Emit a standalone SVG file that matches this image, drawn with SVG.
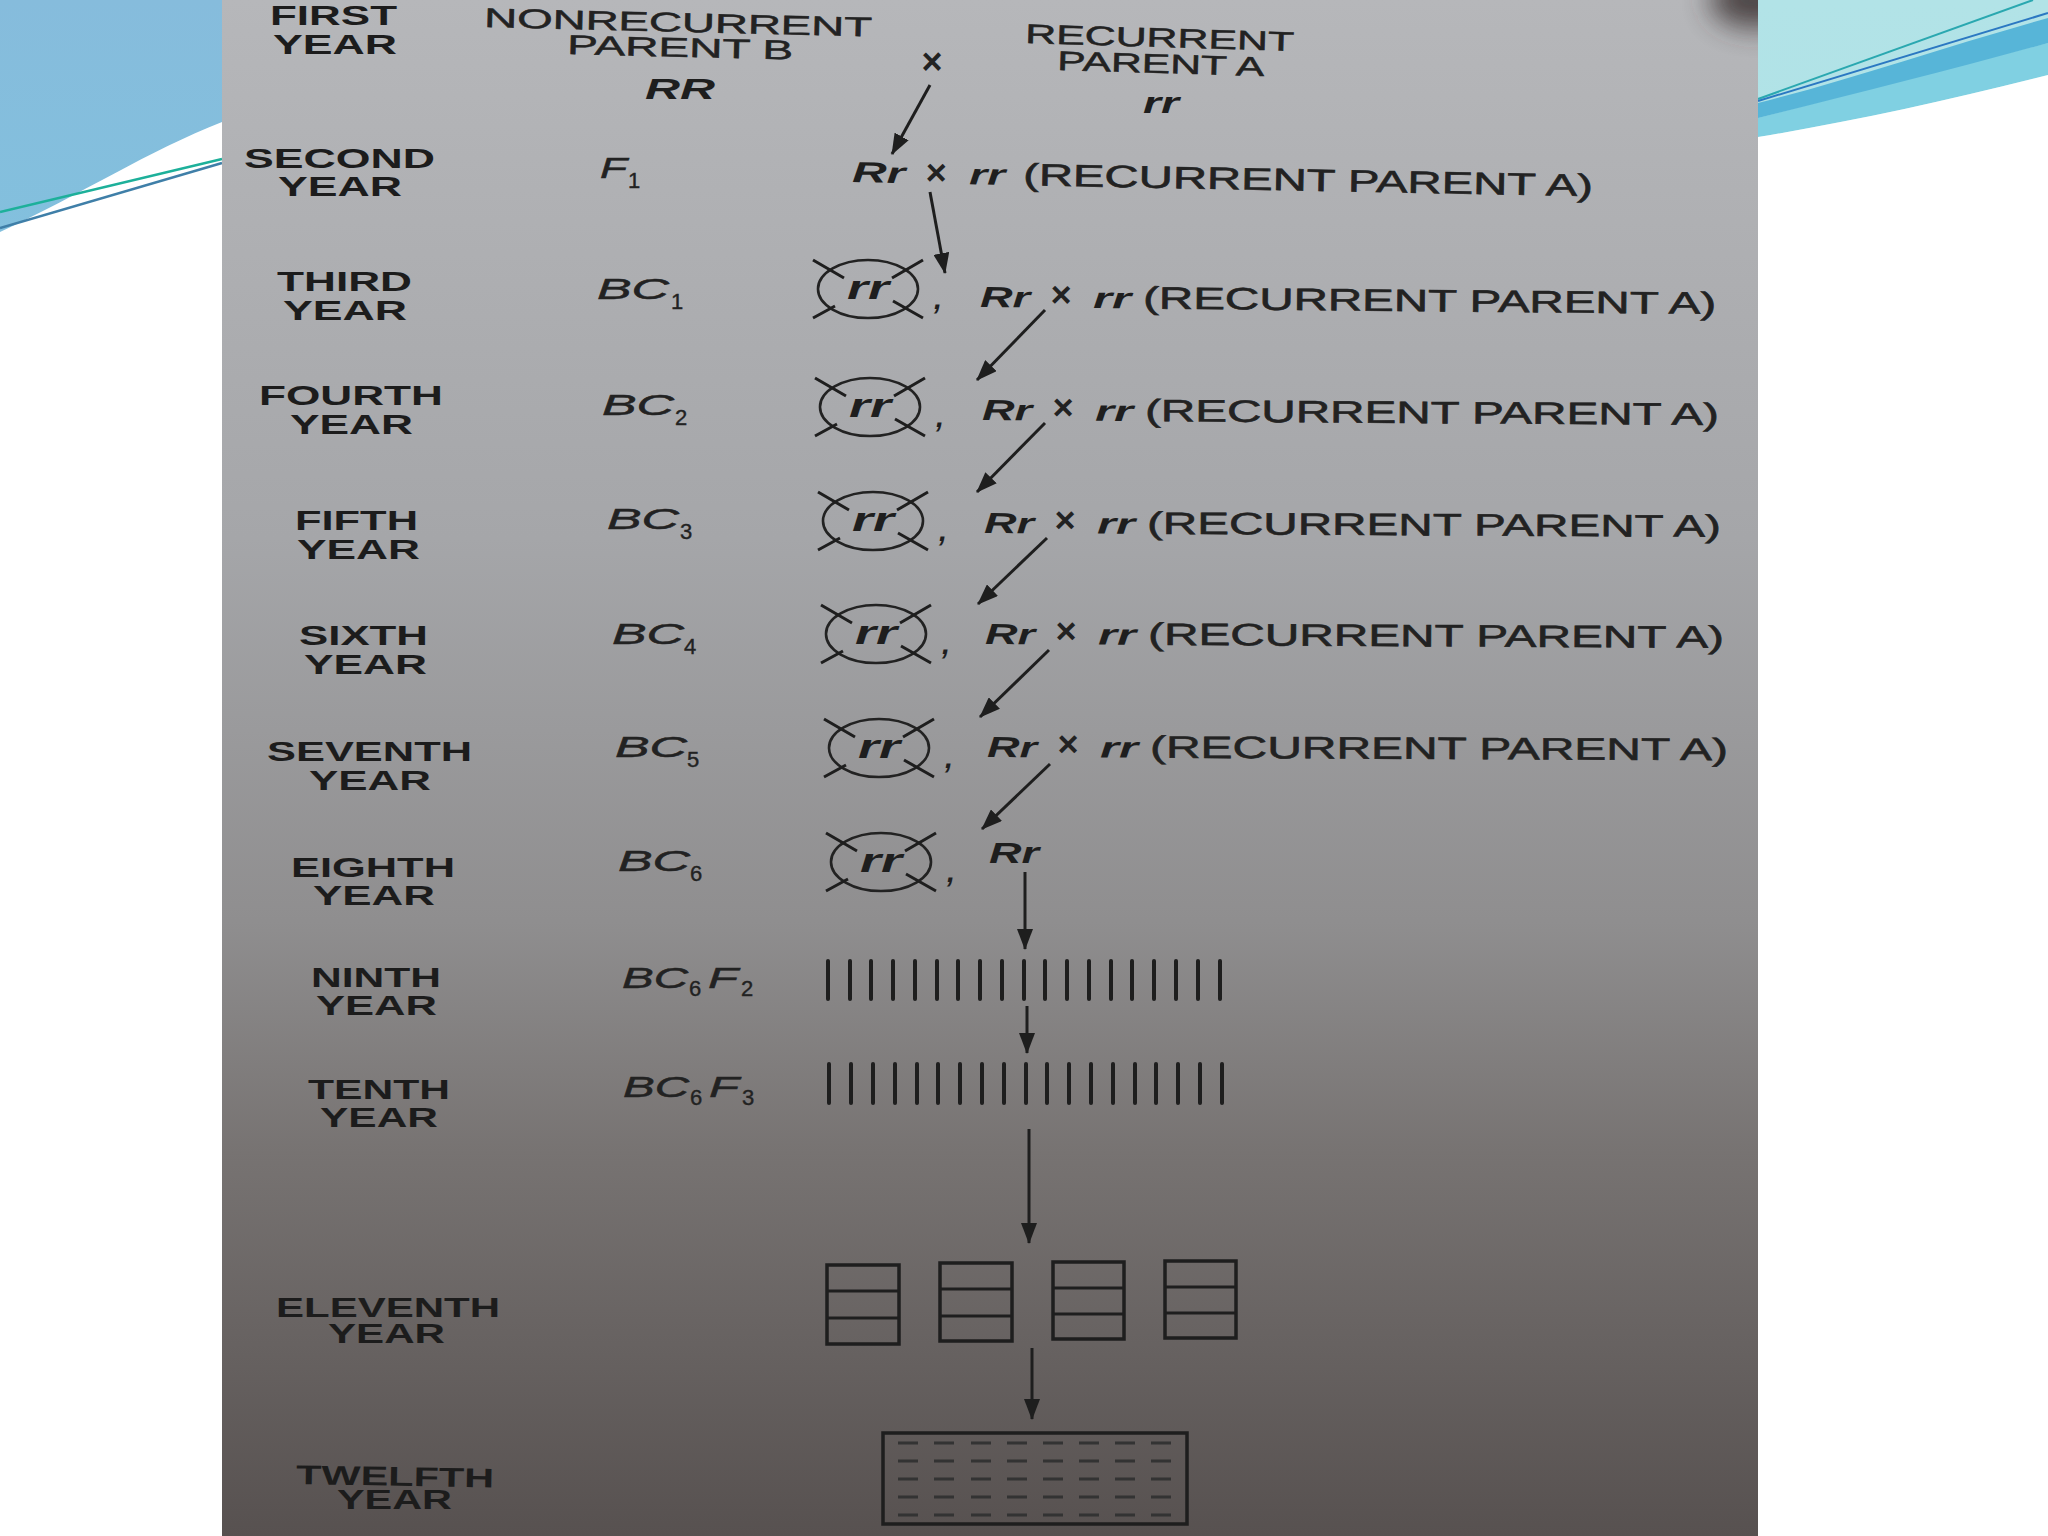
<svg xmlns="http://www.w3.org/2000/svg" width="2048" height="1536" viewBox="0 0 2048 1536">
<defs>
<linearGradient id="paper" x1="0" y1="0" x2="0" y2="1">
<stop offset="0" stop-color="#b6b7ba"/>
<stop offset="0.35" stop-color="#a5a6a9"/>
<stop offset="0.6" stop-color="#8f8e8f"/>
<stop offset="0.75" stop-color="#777372"/>
<stop offset="1" stop-color="#575150"/>
</linearGradient>
<linearGradient id="lblue" x1="0" y1="0" x2="0" y2="1">
<stop offset="0" stop-color="#86bcdc"/>
<stop offset="1" stop-color="#6fd6e6"/>
</linearGradient>
<linearGradient id="rblue" x1="0" y1="0" x2="0" y2="1">
<stop offset="0" stop-color="#b2e3e7"/>
<stop offset="1" stop-color="#9ddbe3"/>
</linearGradient>
<clipPath id="paperclip"><rect x="222" y="0" width="1536" height="1536"/></clipPath>
<filter id="blur" x="-100%" y="-100%" width="300%" height="300%"><feGaussianBlur stdDeviation="14"/></filter>
<marker id="ah" markerUnits="userSpaceOnUse" markerWidth="22" markerHeight="16" refX="20" refY="8" orient="auto" viewBox="0 0 22 16">
<path d="M0,0 L21,8 L0,16 Z" fill="#1e1e1e"/>
</marker>
<style>
.yr{font-family:"Liberation Sans",Arial,sans-serif;font-weight:bold;font-size:27px;fill:#1c1c1c}
.hd{font-family:"Liberation Sans",Arial,sans-serif;font-size:27px;fill:#222;stroke:#222;stroke-width:0.5}
.rp{font-family:"Liberation Sans",Arial,sans-serif;font-size:31px;fill:#222;stroke:#222;stroke-width:0.6}
.g{font-family:"Liberation Sans",Arial,sans-serif;font-weight:bold;font-style:italic;font-size:29px;fill:#1e1e1e}
.x{font-family:"Liberation Sans",Arial,sans-serif;font-weight:bold;font-size:36px;fill:#222}
.bc{font-family:"Liberation Sans",Arial,sans-serif;font-style:italic;font-size:30px;fill:#222;stroke:#222;stroke-width:0.5}
.sub{font-family:"Liberation Sans",Arial,sans-serif;font-size:22px;fill:#222;stroke:#222;stroke-width:0.4}
.ln{stroke:#1e1e1e;stroke-width:3;fill:none}
.ar{stroke:#1e1e1e;stroke-width:3;fill:none;marker-end:url(#ah)}
.bar{stroke:#1e1e1e;stroke-width:4;stroke-linecap:round}
.ell{stroke:#222;stroke-width:2.6;fill:none}
.rr{font-family:"Liberation Sans",Arial,sans-serif;font-weight:bold;font-style:italic;font-size:33px;fill:#1e1e1e}
.box{stroke:#1e1e1e;stroke-width:3.5;fill:none}
.dash{stroke:#333;stroke-width:3}
</style>
</defs>

<!-- background slide -->
<rect x="0" y="0" width="222" height="1536" fill="url(#lblue)"/>
<path d="M0,232 C80,195 150,150 222,122 L222,1536 L0,1536 Z" fill="#ffffff"/>
<line x1="0" y1="212" x2="222" y2="159" stroke="#1db09a" stroke-width="2.5"/>
<line x1="0" y1="228" x2="222" y2="163" stroke="#3f7fa8" stroke-width="2.5"/>
<rect x="1758" y="0" width="290" height="1536" fill="url(#rblue)"/>
<path d="M1758,118 L2048,43 L2048,75 C1950,100 1850,122 1758,137 Z" fill="#80d0e2"/>
<path d="M1758,103 C1850,80 1950,45 2048,18 L2048,43 C1950,70 1850,95 1758,118 Z" fill="#57b5d8"/>
<path d="M1758,137 C1850,122 1950,100 2048,75 L2048,1536 L1758,1536 Z" fill="#ffffff"/>
<line x1="1758" y1="99" x2="2033" y2="0" stroke="#2aa8b0" stroke-width="2"/>
<line x1="1758" y1="101" x2="2048" y2="13" stroke="#2b78c2" stroke-width="2"/>

<!-- paper photo -->
<rect x="222" y="0" width="1536" height="1536" fill="url(#paper)"/>
<g clip-path="url(#paperclip)">
<ellipse cx="1755" cy="0" rx="45" ry="28" fill="#3a3331" filter="url(#blur)" opacity="0.85"/>
</g>

<g id="header">
<text class="hd" x="484" y="27" textLength="388" lengthAdjust="spacingAndGlyphs" transform="rotate(1.4 484 27)">NONRECURRENT</text>
<text class="hd" x="567" y="54" textLength="226" lengthAdjust="spacingAndGlyphs" transform="rotate(1.4 567 54)">PARENT B</text>
<text class="g" x="645" y="99" textLength="70" lengthAdjust="spacingAndGlyphs">RR</text>
<text class="x" x="932" y="74" text-anchor="middle">×</text>
<text class="hd" x="1025" y="43" textLength="269" lengthAdjust="spacingAndGlyphs" transform="rotate(1.7 1025 43)">RECURRENT</text>
<text class="hd" x="1057" y="70" textLength="207" lengthAdjust="spacingAndGlyphs" transform="rotate(1.7 1057 70)">PARENT A</text>
<text class="g" x="1143" y="113" textLength="36" lengthAdjust="spacingAndGlyphs">rr</text>
</g>

<g id="year-labels">
<text class="yr" x="270" y="25" textLength="127" lengthAdjust="spacingAndGlyphs">FIRST</text>
<text class="yr" x="273" y="54" textLength="124" lengthAdjust="spacingAndGlyphs">YEAR</text>
<text class="yr" x="244" y="168" textLength="191" lengthAdjust="spacingAndGlyphs">SECOND</text>
<text class="yr" x="278" y="196" textLength="124" lengthAdjust="spacingAndGlyphs">YEAR</text>
<text class="yr" x="277" y="291" textLength="135" lengthAdjust="spacingAndGlyphs">THIRD</text>
<text class="yr" x="283" y="320" textLength="124" lengthAdjust="spacingAndGlyphs">YEAR</text>
<text class="yr" x="259" y="405" textLength="184" lengthAdjust="spacingAndGlyphs">FOURTH</text>
<text class="yr" x="290" y="434" textLength="123" lengthAdjust="spacingAndGlyphs">YEAR</text>
<text class="yr" x="295" y="530" textLength="123" lengthAdjust="spacingAndGlyphs">FIFTH</text>
<text class="yr" x="297" y="559" textLength="123" lengthAdjust="spacingAndGlyphs">YEAR</text>
<text class="yr" x="299" y="645" textLength="129" lengthAdjust="spacingAndGlyphs">SIXTH</text>
<text class="yr" x="304" y="674" textLength="123" lengthAdjust="spacingAndGlyphs">YEAR</text>
<text class="yr" x="267" y="761" textLength="205" lengthAdjust="spacingAndGlyphs">SEVENTH</text>
<text class="yr" x="309" y="790" textLength="122" lengthAdjust="spacingAndGlyphs">YEAR</text>
<text class="yr" x="291" y="877" textLength="164" lengthAdjust="spacingAndGlyphs">EIGHTH</text>
<text class="yr" x="313" y="905" textLength="122" lengthAdjust="spacingAndGlyphs">YEAR</text>
<text class="yr" x="311" y="987" textLength="130" lengthAdjust="spacingAndGlyphs">NINTH</text>
<text class="yr" x="316" y="1015" textLength="121" lengthAdjust="spacingAndGlyphs">YEAR</text>
<text class="yr" x="308" y="1099" textLength="142" lengthAdjust="spacingAndGlyphs">TENTH</text>
<text class="yr" x="320" y="1127" textLength="118" lengthAdjust="spacingAndGlyphs">YEAR</text>
<text class="yr" x="276" y="1317" textLength="224" lengthAdjust="spacingAndGlyphs">ELEVENTH</text>
<text class="yr" x="328" y="1343" textLength="117" lengthAdjust="spacingAndGlyphs">YEAR</text>
<text class="yr" x="296" y="1484" textLength="198" lengthAdjust="spacingAndGlyphs" transform="rotate(1 296 1484)">TWELFTH</text>
<text class="yr" x="337" y="1509" textLength="115" lengthAdjust="spacingAndGlyphs">YEAR</text>
</g>

<g id="generations">
<text class="bc" x="600" y="178" textLength="27" lengthAdjust="spacingAndGlyphs">F</text><text class="sub" x="628" y="188">1</text>
<text class="bc" x="597" y="299" textLength="72" lengthAdjust="spacingAndGlyphs">BC</text><text class="sub" x="671" y="309">1</text>
<text class="bc" x="602" y="415" textLength="72" lengthAdjust="spacingAndGlyphs">BC</text><text class="sub" x="675" y="425">2</text>
<text class="bc" x="607" y="529" textLength="72" lengthAdjust="spacingAndGlyphs">BC</text><text class="sub" x="680" y="539">3</text>
<text class="bc" x="612" y="644" textLength="72" lengthAdjust="spacingAndGlyphs">BC</text><text class="sub" x="684" y="654">4</text>
<text class="bc" x="615" y="757" textLength="72" lengthAdjust="spacingAndGlyphs">BC</text><text class="sub" x="687" y="767">5</text>
<text class="bc" x="618" y="871" textLength="72" lengthAdjust="spacingAndGlyphs">BC</text><text class="sub" x="690" y="881">6</text>
<text class="bc" x="622" y="988" textLength="66" lengthAdjust="spacingAndGlyphs">BC</text><text class="sub" x="689" y="996">6</text><text class="bc" x="708" y="988" textLength="30" lengthAdjust="spacingAndGlyphs">F</text><text class="sub" x="741" y="996">2</text>
<text class="bc" x="623" y="1097" textLength="66" lengthAdjust="spacingAndGlyphs">BC</text><text class="sub" x="690" y="1105">6</text><text class="bc" x="709" y="1097" textLength="30" lengthAdjust="spacingAndGlyphs">F</text><text class="sub" x="742" y="1105">3</text>
</g>

<g id="cross-2" transform="rotate(1.1 852 182)">
<text class="g" x="852" y="182" textLength="53" lengthAdjust="spacingAndGlyphs">Rr</text>
<text class="x" x="936" y="183" text-anchor="middle">×</text>
<text class="g" x="969" y="182" textLength="36" lengthAdjust="spacingAndGlyphs">rr</text>
<text class="rp" x="1023" y="182" textLength="570" lengthAdjust="spacingAndGlyphs">(RECURRENT PARENT A)</text>
</g>
<g id="cross-3" transform="rotate(0.55 980 307)">
<text class="g" x="980" y="307" textLength="50" lengthAdjust="spacingAndGlyphs">Rr</text>
<text class="x" x="1061" y="306" text-anchor="middle">×</text>
<text class="g" x="1093" y="307" textLength="38" lengthAdjust="spacingAndGlyphs">rr</text>
<text class="rp" x="1143" y="307" textLength="573" lengthAdjust="spacingAndGlyphs">(RECURRENT PARENT A)</text>
</g>
<g id="cross-4" transform="rotate(0.4 982 420)">
<text class="g" x="982" y="420" textLength="50" lengthAdjust="spacingAndGlyphs">Rr</text>
<text class="x" x="1063" y="419" text-anchor="middle">×</text>
<text class="g" x="1095" y="420" textLength="38" lengthAdjust="spacingAndGlyphs">rr</text>
<text class="rp" x="1145" y="420" textLength="574" lengthAdjust="spacingAndGlyphs">(RECURRENT PARENT A)</text>
</g>
<g id="cross-5" transform="rotate(0.3 984 533)">
<text class="g" x="984" y="533" textLength="50" lengthAdjust="spacingAndGlyphs">Rr</text>
<text class="x" x="1065" y="532" text-anchor="middle">×</text>
<text class="g" x="1097" y="533" textLength="38" lengthAdjust="spacingAndGlyphs">rr</text>
<text class="rp" x="1147" y="533" textLength="574" lengthAdjust="spacingAndGlyphs">(RECURRENT PARENT A)</text>
</g>
<g id="cross-6" transform="rotate(0.3 985 644)">
<text class="g" x="985" y="644" textLength="50" lengthAdjust="spacingAndGlyphs">Rr</text>
<text class="x" x="1066" y="643" text-anchor="middle">×</text>
<text class="g" x="1098" y="644" textLength="38" lengthAdjust="spacingAndGlyphs">rr</text>
<text class="rp" x="1148" y="644" textLength="576" lengthAdjust="spacingAndGlyphs">(RECURRENT PARENT A)</text>
</g>
<g id="cross-7" transform="rotate(0.25 987 757)">
<text class="g" x="987" y="757" textLength="50" lengthAdjust="spacingAndGlyphs">Rr</text>
<text class="x" x="1068" y="756" text-anchor="middle">×</text>
<text class="g" x="1100" y="757" textLength="38" lengthAdjust="spacingAndGlyphs">rr</text>
<text class="rp" x="1150" y="757" textLength="578" lengthAdjust="spacingAndGlyphs">(RECURRENT PARENT A)</text>
</g>
<g id="rr-8">
<text class="g" x="989" y="863" textLength="50" lengthAdjust="spacingAndGlyphs">Rr</text>
</g>

<g id="discarded">
<g id="selfed-3" transform="translate(868 289)">
<ellipse class="ell" cx="0" cy="0" rx="50" ry="29"/>
<path class="ln" d="M-55,-29 L-24,-11 M55,-29 L24,-11 M-55,29 L-33,17 M55,29 L25,12"/>
<text class="rr" x="-21" y="10" textLength="42" lengthAdjust="spacingAndGlyphs">rr</text>
<text class="g" x="66" y="20">,</text>
</g>
<g id="selfed-4" transform="translate(870 407)">
<ellipse class="ell" cx="0" cy="0" rx="50" ry="29"/>
<path class="ln" d="M-55,-29 L-24,-11 M55,-29 L24,-11 M-55,29 L-33,17 M55,29 L25,12"/>
<text class="rr" x="-21" y="10" textLength="42" lengthAdjust="spacingAndGlyphs">rr</text>
<text class="g" x="66" y="20">,</text>
</g>
<g id="selfed-5" transform="translate(873 521)">
<ellipse class="ell" cx="0" cy="0" rx="50" ry="29"/>
<path class="ln" d="M-55,-29 L-24,-11 M55,-29 L24,-11 M-55,29 L-33,17 M55,29 L25,12"/>
<text class="rr" x="-21" y="10" textLength="42" lengthAdjust="spacingAndGlyphs">rr</text>
<text class="g" x="66" y="20">,</text>
</g>
<g id="selfed-6" transform="translate(876 634)">
<ellipse class="ell" cx="0" cy="0" rx="50" ry="29"/>
<path class="ln" d="M-55,-29 L-24,-11 M55,-29 L24,-11 M-55,29 L-33,17 M55,29 L25,12"/>
<text class="rr" x="-21" y="10" textLength="42" lengthAdjust="spacingAndGlyphs">rr</text>
<text class="g" x="66" y="20">,</text>
</g>
<g id="selfed-7" transform="translate(879 748)">
<ellipse class="ell" cx="0" cy="0" rx="50" ry="29"/>
<path class="ln" d="M-55,-29 L-24,-11 M55,-29 L24,-11 M-55,29 L-33,17 M55,29 L25,12"/>
<text class="rr" x="-21" y="10" textLength="42" lengthAdjust="spacingAndGlyphs">rr</text>
<text class="g" x="66" y="20">,</text>
</g>
<g id="selfed-8" transform="translate(881 862)">
<ellipse class="ell" cx="0" cy="0" rx="50" ry="29"/>
<path class="ln" d="M-55,-29 L-24,-11 M55,-29 L24,-11 M-55,29 L-33,17 M55,29 L25,12"/>
<text class="rr" x="-21" y="10" textLength="42" lengthAdjust="spacingAndGlyphs">rr</text>
<text class="g" x="66" y="20">,</text>
</g>
</g>

<g id="f2-lines">
<line class="bar" x1="828" y1="961" x2="828" y2="999"/><line class="bar" x1="850" y1="961" x2="850" y2="999"/><line class="bar" x1="871" y1="961" x2="871" y2="999"/><line class="bar" x1="893" y1="961" x2="893" y2="999"/><line class="bar" x1="915" y1="961" x2="915" y2="999"/><line class="bar" x1="937" y1="961" x2="937" y2="999"/><line class="bar" x1="958" y1="961" x2="958" y2="999"/><line class="bar" x1="980" y1="961" x2="980" y2="999"/><line class="bar" x1="1002" y1="961" x2="1002" y2="999"/><line class="bar" x1="1024" y1="961" x2="1024" y2="999"/><line class="bar" x1="1045" y1="961" x2="1045" y2="999"/><line class="bar" x1="1067" y1="961" x2="1067" y2="999"/><line class="bar" x1="1089" y1="961" x2="1089" y2="999"/><line class="bar" x1="1111" y1="961" x2="1111" y2="999"/><line class="bar" x1="1132" y1="961" x2="1132" y2="999"/><line class="bar" x1="1154" y1="961" x2="1154" y2="999"/><line class="bar" x1="1176" y1="961" x2="1176" y2="999"/><line class="bar" x1="1198" y1="961" x2="1198" y2="999"/><line class="bar" x1="1220" y1="961" x2="1220" y2="999"/>
</g>
<g id="f3-lines">
<line class="bar" x1="829" y1="1064" x2="829" y2="1103"/><line class="bar" x1="851" y1="1064" x2="851" y2="1103"/><line class="bar" x1="873" y1="1064" x2="873" y2="1103"/><line class="bar" x1="895" y1="1064" x2="895" y2="1103"/><line class="bar" x1="917" y1="1064" x2="917" y2="1103"/><line class="bar" x1="938" y1="1064" x2="938" y2="1103"/><line class="bar" x1="960" y1="1064" x2="960" y2="1103"/><line class="bar" x1="982" y1="1064" x2="982" y2="1103"/><line class="bar" x1="1004" y1="1064" x2="1004" y2="1103"/><line class="bar" x1="1026" y1="1064" x2="1026" y2="1103"/><line class="bar" x1="1047" y1="1064" x2="1047" y2="1103"/><line class="bar" x1="1069" y1="1064" x2="1069" y2="1103"/><line class="bar" x1="1091" y1="1064" x2="1091" y2="1103"/><line class="bar" x1="1113" y1="1064" x2="1113" y2="1103"/><line class="bar" x1="1135" y1="1064" x2="1135" y2="1103"/><line class="bar" x1="1156" y1="1064" x2="1156" y2="1103"/><line class="bar" x1="1178" y1="1064" x2="1178" y2="1103"/><line class="bar" x1="1200" y1="1064" x2="1200" y2="1103"/><line class="bar" x1="1222" y1="1064" x2="1222" y2="1103"/>
</g>

<g id="progeny-rows">
<g id="row-box-1"><rect class="box" x="827" y="1265" width="72" height="79"/><line class="ln" x1="827" y1="1291" x2="899" y2="1291"/><line class="ln" x1="827" y1="1318" x2="899" y2="1318"/></g>
<g id="row-box-2"><rect class="box" x="940" y="1263" width="72" height="78"/><line class="ln" x1="940" y1="1289" x2="1012" y2="1289"/><line class="ln" x1="940" y1="1316" x2="1012" y2="1316"/></g>
<g id="row-box-3"><rect class="box" x="1053" y="1262" width="71" height="77"/><line class="ln" x1="1053" y1="1288" x2="1124" y2="1288"/><line class="ln" x1="1053" y1="1314" x2="1124" y2="1314"/></g>
<g id="row-box-4"><rect class="box" x="1165" y="1261" width="71" height="77"/><line class="ln" x1="1165" y1="1287" x2="1236" y2="1287"/><line class="ln" x1="1165" y1="1313" x2="1236" y2="1313"/></g>
</g>

<g id="bulk-plot">
<rect class="box" x="883" y="1433" width="304" height="91"/>
<g class="dash">
<path d="M898,1443h20M934,1443h20M971,1443h20M1007,1443h20M1043,1443h20M1079,1443h20M1115,1443h20M1151,1443h20"/>
<path d="M898,1461h20M934,1461h20M971,1461h20M1007,1461h20M1043,1461h20M1079,1461h20M1115,1461h20M1151,1461h20"/>
<path d="M898,1479h20M934,1479h20M971,1479h20M1007,1479h20M1043,1479h20M1079,1479h20M1115,1479h20M1151,1479h20"/>
<path d="M898,1497h20M934,1497h20M971,1497h20M1007,1497h20M1043,1497h20M1079,1497h20M1115,1497h20M1151,1497h20"/>
<path d="M898,1515h20M934,1515h20M971,1515h20M1007,1515h20M1043,1515h20M1079,1515h20M1115,1515h20M1151,1515h20"/>
</g>
</g>

<g id="connectors">
<line class="ar" x1="930" y1="85" x2="892" y2="154"/>
<line class="ar" x1="930" y1="192" x2="945" y2="273"/>
<line class="ar" x1="1045" y1="310" x2="977" y2="380"/>
<line class="ar" x1="1045" y1="423" x2="977" y2="492"/>
<line class="ar" x1="1047" y1="538" x2="978" y2="604"/>
<line class="ar" x1="1049" y1="650" x2="980" y2="717"/>
<line class="ar" x1="1050" y1="764" x2="982" y2="829"/>
<line class="ar" x1="1025" y1="872" x2="1025" y2="949"/>
<line class="ar" x1="1027" y1="1006" x2="1027" y2="1053"/>
<line class="ar" x1="1029" y1="1129" x2="1029" y2="1243"/>
<line class="ar" x1="1032" y1="1348" x2="1032" y2="1419"/>
</g>
</svg>
